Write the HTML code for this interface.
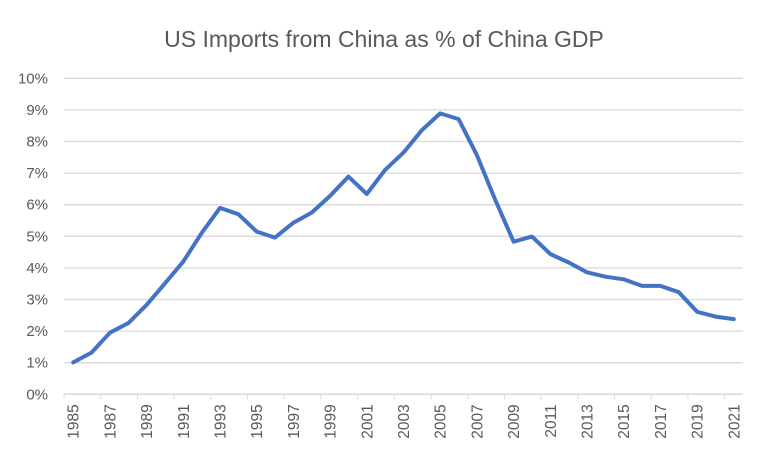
<!DOCTYPE html>
<html><head><meta charset="utf-8"><style>
body{margin:0;background:#fff;}
svg{display:block;font-family:"Liberation Sans",Calibri,sans-serif;}
</style></head><body>
<svg id="chart" width="768" height="460">
<text x="384" y="47" text-anchor="middle" font-size="23" fill="#595959">US Imports from China as % of China GDP</text>
<g id="grid"></g><g id="yl"></g><g id="xl"></g><g id="series"></g>
</svg>
<script>
const years=[];for(let y=1985;y<=2021;y++)years.push(String(y));
const values=[1.01,1.32,1.95,2.25,2.83,3.51,4.2,5.1,5.9,5.7,5.15,4.96,5.43,5.75,6.28,6.89,6.34,7.1,7.65,8.36,8.89,8.71,7.57,6.15,4.83,4.99,4.44,4.17,3.86,3.72,3.64,3.43,3.43,3.23,2.61,2.46,2.38];
const yTicks=[0,1,2,3,4,5,6,7,8,9,10];
const NS="http://www.w3.org/2000/svg";
const L=64,R=743,T=78.3,B=394.3;
const step=(R-L)/years.length;
const xS=i=>L+step*(i+0.5);
const yS=v=>B-(v/10)*(B-T);
function mk(t,a,p){const e=document.createElementNS(NS,t);for(const k in a)e.setAttribute(k,a[k]);document.getElementById(p).appendChild(e);return e;}
yTicks.forEach(v=>{
 const g=mk('line',{x1:L,x2:R,y1:yS(v),y2:yS(v),stroke:'#d9d9d9','stroke-width':v===0?1.5:1.3},'grid');
 
 
 const t=mk('text',{x:48,y:yS(v)+5,'text-anchor':'end','font-size':15,fill:'#595959'},'yl');
 t.textContent=v+'%';
 
 
});
for(let i=0;i<=years.length;i+=2){
 const x=L+step*i;
 const tk=mk('line',{x1:x,x2:x,y1:B,y2:B+5,stroke:'#d9d9d9','stroke-width':1},'grid');
 
 
}
years.forEach((y,i)=>{
 if(i%2)return;
 const x=xS(i)+5.5,yy=B+10;
 const t=mk('text',{x:x,y:yy,'text-anchor':'end','font-size':15.5,fill:'#595959',transform:`rotate(-90 ${x} ${yy})`},'xl');
 t.textContent=y;
 
 
});
const pts=values.map((v,i)=>xS(i).toFixed(1)+','+yS(v).toFixed(1)).join(' ');
const pl=mk('polyline',{points:pts,fill:'none',stroke:'#4472C4','stroke-width':4,'stroke-linejoin':'round','stroke-linecap':'round'},'series');


</script>
</body></html>
